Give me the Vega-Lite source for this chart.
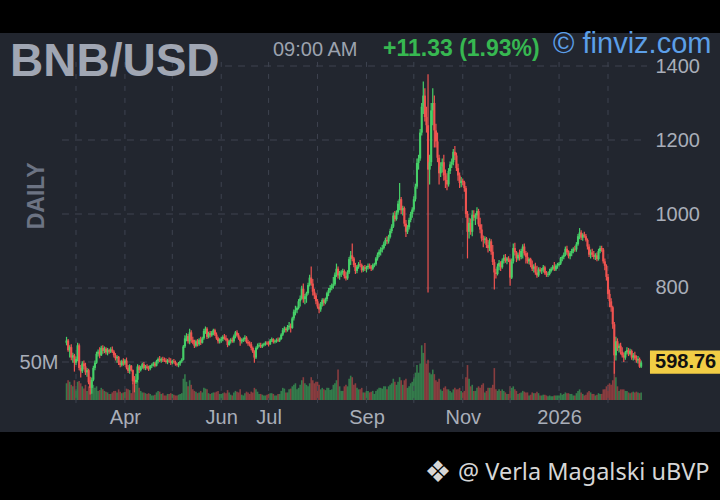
{
  "$schema": "https://vega.github.io/schema/vega-lite/v6.json",
  "autosize": "none",
  "width": 720,
  "height": 399,
  "padding": {"left": 0, "top": 33, "right": 0, "bottom": 68},
  "background": "#000000",
  "config": {"view": {"fill": "#22262f", "stroke": null}},
  "data": {
    "format": {"parse": {"d": "date"}},
    "values": [
      {"d":"2025-02-23","o":652,"h":668,"l":645,"c":658,"v":22},
      {"d":"2025-02-24","o":658,"h":662,"l":628,"c":632,"v":26},
      {"d":"2025-02-25","o":632,"h":645,"l":612,"c":640,"v":24},
      {"d":"2025-02-26","o":640,"h":648,"l":605,"c":612,"v":20},
      {"d":"2025-02-27","o":612,"h":625,"l":598,"c":618,"v":18},
      {"d":"2025-02-28","o":618,"h":622,"l":574,"c":598,"v":26},
      {"d":"2025-03-01","o":598,"h":615,"l":592,"c":608,"v":14},
      {"d":"2025-03-02","o":608,"h":652,"l":602,"c":645,"v":24},
      {"d":"2025-03-03","o":645,"h":650,"l":578,"c":584,"v":25},
      {"d":"2025-03-04","o":584,"h":592,"l":558,"c":575,"v":22},
      {"d":"2025-03-05","o":575,"h":602,"l":570,"c":596,"v":18},
      {"d":"2025-03-06","o":596,"h":604,"l":580,"c":588,"v":15},
      {"d":"2025-03-07","o":588,"h":598,"l":565,"c":572,"v":20},
      {"d":"2025-03-08","o":572,"h":584,"l":560,"c":578,"v":12},
      {"d":"2025-03-09","o":578,"h":582,"l":540,"c":545,"v":18},
      {"d":"2025-03-10","o":545,"h":560,"l":512,"c":530,"v":26},
      {"d":"2025-03-11","o":530,"h":558,"l":514,"c":552,"v":24},
      {"d":"2025-03-12","o":552,"h":590,"l":548,"c":584,"v":20},
      {"d":"2025-03-13","o":584,"h":604,"l":578,"c":598,"v":16},
      {"d":"2025-03-14","o":598,"h":628,"l":595,"c":622,"v":18},
      {"d":"2025-03-15","o":622,"h":634,"l":615,"c":628,"v":12},
      {"d":"2025-03-16","o":628,"h":640,"l":610,"c":618,"v":13},
      {"d":"2025-03-17","o":618,"h":644,"l":616,"c":638,"v":16},
      {"d":"2025-03-18","o":638,"h":645,"l":622,"c":630,"v":14},
      {"d":"2025-03-19","o":630,"h":642,"l":624,"c":636,"v":12},
      {"d":"2025-03-20","o":636,"h":640,"l":620,"c":626,"v":11},
      {"d":"2025-03-21","o":626,"h":638,"l":618,"c":632,"v":10},
      {"d":"2025-03-22","o":632,"h":636,"l":622,"c":628,"v":8},
      {"d":"2025-03-23","o":628,"h":640,"l":624,"c":634,"v":8},
      {"d":"2025-03-24","o":634,"h":642,"l":624,"c":628,"v":10},
      {"d":"2025-03-25","o":628,"h":632,"l":612,"c":618,"v":12},
      {"d":"2025-03-26","o":618,"h":624,"l":604,"c":610,"v":12},
      {"d":"2025-03-27","o":610,"h":618,"l":598,"c":614,"v":10},
      {"d":"2025-03-28","o":614,"h":616,"l":592,"c":598,"v":14},
      {"d":"2025-03-29","o":598,"h":604,"l":586,"c":592,"v":11},
      {"d":"2025-03-30","o":592,"h":606,"l":588,"c":602,"v":9},
      {"d":"2025-03-31","o":602,"h":610,"l":590,"c":596,"v":10},
      {"d":"2025-04-01","o":596,"h":608,"l":592,"c":604,"v":11},
      {"d":"2025-04-02","o":604,"h":612,"l":580,"c":585,"v":15},
      {"d":"2025-04-03","o":585,"h":592,"l":570,"c":576,"v":14},
      {"d":"2025-04-04","o":576,"h":594,"l":568,"c":590,"v":13},
      {"d":"2025-04-05","o":590,"h":592,"l":574,"c":578,"v":9},
      {"d":"2025-04-06","o":578,"h":580,"l":540,"c":548,"v":22},
      {"d":"2025-04-07","o":548,"h":562,"l":518,"c":545,"v":30},
      {"d":"2025-04-08","o":545,"h":568,"l":540,"c":552,"v":20},
      {"d":"2025-04-09","o":552,"h":594,"l":545,"c":588,"v":24},
      {"d":"2025-04-10","o":588,"h":592,"l":570,"c":578,"v":16},
      {"d":"2025-04-11","o":578,"h":590,"l":574,"c":586,"v":12},
      {"d":"2025-04-12","o":586,"h":598,"l":582,"c":594,"v":10},
      {"d":"2025-04-13","o":594,"h":600,"l":580,"c":584,"v":10},
      {"d":"2025-04-14","o":584,"h":592,"l":578,"c":588,"v":9},
      {"d":"2025-04-15","o":588,"h":594,"l":580,"c":584,"v":8},
      {"d":"2025-04-16","o":584,"h":590,"l":576,"c":582,"v":9},
      {"d":"2025-04-17","o":582,"h":592,"l":578,"c":590,"v":8},
      {"d":"2025-04-18","o":590,"h":596,"l":584,"c":592,"v":6},
      {"d":"2025-04-19","o":592,"h":600,"l":588,"c":596,"v":6},
      {"d":"2025-04-20","o":596,"h":600,"l":586,"c":590,"v":7},
      {"d":"2025-04-21","o":590,"h":606,"l":588,"c":602,"v":10},
      {"d":"2025-04-22","o":602,"h":612,"l":596,"c":608,"v":12},
      {"d":"2025-04-23","o":608,"h":616,"l":600,"c":604,"v":11},
      {"d":"2025-04-24","o":604,"h":612,"l":598,"c":608,"v":8},
      {"d":"2025-04-25","o":608,"h":614,"l":600,"c":606,"v":9},
      {"d":"2025-04-26","o":606,"h":612,"l":600,"c":604,"v":6},
      {"d":"2025-04-27","o":604,"h":610,"l":596,"c":600,"v":6},
      {"d":"2025-04-28","o":600,"h":608,"l":594,"c":604,"v":8},
      {"d":"2025-04-29","o":604,"h":612,"l":598,"c":602,"v":8},
      {"d":"2025-04-30","o":602,"h":610,"l":592,"c":598,"v":9},
      {"d":"2025-05-01","o":598,"h":606,"l":594,"c":602,"v":8},
      {"d":"2025-05-02","o":602,"h":608,"l":596,"c":600,"v":7},
      {"d":"2025-05-03","o":600,"h":604,"l":590,"c":594,"v":6},
      {"d":"2025-05-04","o":594,"h":598,"l":588,"c":592,"v":6},
      {"d":"2025-05-05","o":592,"h":600,"l":586,"c":596,"v":7},
      {"d":"2025-05-06","o":596,"h":604,"l":590,"c":602,"v":8},
      {"d":"2025-05-07","o":602,"h":610,"l":598,"c":606,"v":9},
      {"d":"2025-05-08","o":606,"h":646,"l":604,"c":642,"v":28},
      {"d":"2025-05-09","o":642,"h":672,"l":638,"c":664,"v":34},
      {"d":"2025-05-10","o":664,"h":678,"l":656,"c":670,"v":24},
      {"d":"2025-05-11","o":670,"h":676,"l":650,"c":656,"v":18},
      {"d":"2025-05-12","o":656,"h":690,"l":648,"c":680,"v":26},
      {"d":"2025-05-13","o":680,"h":686,"l":652,"c":660,"v":20},
      {"d":"2025-05-14","o":660,"h":668,"l":648,"c":652,"v":14},
      {"d":"2025-05-15","o":652,"h":660,"l":638,"c":644,"v":12},
      {"d":"2025-05-16","o":644,"h":660,"l":640,"c":656,"v":11},
      {"d":"2025-05-17","o":656,"h":662,"l":642,"c":648,"v":9},
      {"d":"2025-05-18","o":648,"h":664,"l":644,"c":660,"v":10},
      {"d":"2025-05-19","o":660,"h":668,"l":646,"c":652,"v":12},
      {"d":"2025-05-20","o":652,"h":668,"l":650,"c":664,"v":10},
      {"d":"2025-05-21","o":664,"h":690,"l":660,"c":684,"v":16},
      {"d":"2025-05-22","o":684,"h":696,"l":676,"c":690,"v":15},
      {"d":"2025-05-23","o":690,"h":694,"l":662,"c":668,"v":14},
      {"d":"2025-05-24","o":668,"h":682,"l":664,"c":678,"v":9},
      {"d":"2025-05-25","o":678,"h":684,"l":666,"c":672,"v":8},
      {"d":"2025-05-26","o":672,"h":684,"l":668,"c":680,"v":9},
      {"d":"2025-05-27","o":680,"h":690,"l":672,"c":686,"v":10},
      {"d":"2025-05-28","o":686,"h":690,"l":670,"c":674,"v":10},
      {"d":"2025-05-29","o":674,"h":680,"l":660,"c":664,"v":11},
      {"d":"2025-05-30","o":664,"h":668,"l":650,"c":656,"v":12},
      {"d":"2025-05-31","o":656,"h":664,"l":650,"c":660,"v":8},
      {"d":"2025-06-01","o":660,"h":668,"l":652,"c":662,"v":8},
      {"d":"2025-06-02","o":662,"h":672,"l":656,"c":668,"v":9},
      {"d":"2025-06-03","o":668,"h":676,"l":660,"c":664,"v":10},
      {"d":"2025-06-04","o":664,"h":672,"l":656,"c":660,"v":9},
      {"d":"2025-06-05","o":660,"h":664,"l":640,"c":646,"v":13},
      {"d":"2025-06-06","o":646,"h":660,"l":644,"c":656,"v":10},
      {"d":"2025-06-07","o":656,"h":664,"l":650,"c":660,"v":7},
      {"d":"2025-06-08","o":660,"h":666,"l":652,"c":656,"v":6},
      {"d":"2025-06-09","o":656,"h":674,"l":652,"c":670,"v":10},
      {"d":"2025-06-10","o":670,"h":684,"l":664,"c":680,"v":12},
      {"d":"2025-06-11","o":680,"h":686,"l":668,"c":672,"v":11},
      {"d":"2025-06-12","o":672,"h":678,"l":660,"c":664,"v":10},
      {"d":"2025-06-13","o":664,"h":668,"l":644,"c":656,"v":14},
      {"d":"2025-06-14","o":656,"h":664,"l":650,"c":660,"v":7},
      {"d":"2025-06-15","o":660,"h":666,"l":654,"c":662,"v":6},
      {"d":"2025-06-16","o":662,"h":672,"l":656,"c":666,"v":9},
      {"d":"2025-06-17","o":666,"h":670,"l":650,"c":654,"v":11},
      {"d":"2025-06-18","o":654,"h":660,"l":644,"c":650,"v":10},
      {"d":"2025-06-19","o":650,"h":656,"l":642,"c":648,"v":8},
      {"d":"2025-06-20","o":648,"h":654,"l":632,"c":638,"v":11},
      {"d":"2025-06-21","o":638,"h":642,"l":624,"c":628,"v":10},
      {"d":"2025-06-22","o":628,"h":632,"l":598,"c":612,"v":16},
      {"d":"2025-06-23","o":612,"h":642,"l":608,"c":638,"v":14},
      {"d":"2025-06-24","o":638,"h":650,"l":634,"c":644,"v":11},
      {"d":"2025-06-25","o":644,"h":652,"l":640,"c":646,"v":8},
      {"d":"2025-06-26","o":646,"h":652,"l":638,"c":642,"v":8},
      {"d":"2025-06-27","o":642,"h":650,"l":638,"c":646,"v":7},
      {"d":"2025-06-28","o":646,"h":652,"l":642,"c":648,"v":6},
      {"d":"2025-06-29","o":648,"h":656,"l":644,"c":652,"v":6},
      {"d":"2025-06-30","o":652,"h":656,"l":646,"c":650,"v":7},
      {"d":"2025-07-01","o":650,"h":656,"l":642,"c":648,"v":8},
      {"d":"2025-07-02","o":648,"h":662,"l":646,"c":658,"v":9},
      {"d":"2025-07-03","o":658,"h":666,"l":654,"c":662,"v":9},
      {"d":"2025-07-04","o":662,"h":664,"l":650,"c":654,"v":8},
      {"d":"2025-07-05","o":654,"h":660,"l":650,"c":656,"v":6},
      {"d":"2025-07-06","o":656,"h":664,"l":652,"c":660,"v":6},
      {"d":"2025-07-07","o":660,"h":666,"l":654,"c":658,"v":8},
      {"d":"2025-07-08","o":658,"h":666,"l":654,"c":662,"v":8},
      {"d":"2025-07-09","o":662,"h":678,"l":660,"c":674,"v":12},
      {"d":"2025-07-10","o":674,"h":692,"l":670,"c":686,"v":16},
      {"d":"2025-07-11","o":686,"h":696,"l":680,"c":690,"v":15},
      {"d":"2025-07-12","o":690,"h":694,"l":680,"c":686,"v":10},
      {"d":"2025-07-13","o":686,"h":700,"l":682,"c":694,"v":10},
      {"d":"2025-07-14","o":694,"h":708,"l":688,"c":698,"v":14},
      {"d":"2025-07-15","o":698,"h":704,"l":680,"c":692,"v":15},
      {"d":"2025-07-16","o":692,"h":722,"l":690,"c":718,"v":18},
      {"d":"2025-07-17","o":718,"h":742,"l":712,"c":736,"v":20},
      {"d":"2025-07-18","o":736,"h":752,"l":726,"c":740,"v":22},
      {"d":"2025-07-19","o":740,"h":750,"l":732,"c":746,"v":14},
      {"d":"2025-07-20","o":746,"h":770,"l":742,"c":764,"v":16},
      {"d":"2025-07-21","o":764,"h":780,"l":750,"c":772,"v":20},
      {"d":"2025-07-22","o":772,"h":806,"l":768,"c":798,"v":26},
      {"d":"2025-07-23","o":798,"h":812,"l":760,"c":770,"v":30},
      {"d":"2025-07-24","o":770,"h":784,"l":756,"c":778,"v":22},
      {"d":"2025-07-25","o":778,"h":790,"l":760,"c":786,"v":20},
      {"d":"2025-07-26","o":786,"h":814,"l":782,"c":808,"v":18},
      {"d":"2025-07-27","o":808,"h":836,"l":804,"c":828,"v":22},
      {"d":"2025-07-28","o":828,"h":858,"l":806,"c":812,"v":30},
      {"d":"2025-07-29","o":812,"h":824,"l":780,"c":790,"v":26},
      {"d":"2025-07-30","o":790,"h":798,"l":770,"c":780,"v":22},
      {"d":"2025-07-31","o":780,"h":786,"l":756,"c":764,"v":24},
      {"d":"2025-08-01","o":764,"h":770,"l":744,"c":750,"v":24},
      {"d":"2025-08-02","o":750,"h":758,"l":732,"c":742,"v":20},
      {"d":"2025-08-03","o":742,"h":762,"l":736,"c":756,"v":14},
      {"d":"2025-08-04","o":756,"h":772,"l":750,"c":768,"v":16},
      {"d":"2025-08-05","o":768,"h":772,"l":752,"c":760,"v":14},
      {"d":"2025-08-06","o":760,"h":774,"l":756,"c":770,"v":13},
      {"d":"2025-08-07","o":770,"h":790,"l":764,"c":786,"v":16},
      {"d":"2025-08-08","o":786,"h":800,"l":778,"c":794,"v":16},
      {"d":"2025-08-09","o":794,"h":808,"l":788,"c":800,"v":13},
      {"d":"2025-08-10","o":800,"h":812,"l":794,"c":806,"v":14},
      {"d":"2025-08-11","o":806,"h":830,"l":798,"c":810,"v":20},
      {"d":"2025-08-12","o":810,"h":842,"l":806,"c":836,"v":22},
      {"d":"2025-08-13","o":836,"h":866,"l":830,"c":852,"v":26},
      {"d":"2025-08-14","o":852,"h":858,"l":826,"c":834,"v":40},
      {"d":"2025-08-15","o":834,"h":846,"l":822,"c":840,"v":18},
      {"d":"2025-08-16","o":840,"h":848,"l":830,"c":842,"v":12},
      {"d":"2025-08-17","o":842,"h":852,"l":836,"c":846,"v":12},
      {"d":"2025-08-18","o":846,"h":850,"l":826,"c":832,"v":18},
      {"d":"2025-08-19","o":832,"h":844,"l":820,"c":826,"v":20},
      {"d":"2025-08-20","o":826,"h":848,"l":822,"c":842,"v":18},
      {"d":"2025-08-21","o":842,"h":884,"l":838,"c":878,"v":28},
      {"d":"2025-08-22","o":878,"h":900,"l":862,"c":888,"v":32},
      {"d":"2025-08-23","o":888,"h":920,"l":872,"c":880,"v":30},
      {"d":"2025-08-24","o":880,"h":884,"l":856,"c":862,"v":20},
      {"d":"2025-08-25","o":862,"h":868,"l":838,"c":846,"v":22},
      {"d":"2025-08-26","o":846,"h":862,"l":840,"c":858,"v":16},
      {"d":"2025-08-27","o":858,"h":870,"l":852,"c":864,"v":14},
      {"d":"2025-08-28","o":864,"h":876,"l":856,"c":862,"v":14},
      {"d":"2025-08-29","o":862,"h":866,"l":842,"c":848,"v":16},
      {"d":"2025-08-30","o":848,"h":860,"l":844,"c":856,"v":10},
      {"d":"2025-08-31","o":856,"h":862,"l":846,"c":852,"v":10},
      {"d":"2025-09-01","o":852,"h":860,"l":842,"c":856,"v":12},
      {"d":"2025-09-02","o":856,"h":866,"l":850,"c":860,"v":12},
      {"d":"2025-09-03","o":860,"h":866,"l":852,"c":858,"v":10},
      {"d":"2025-09-04","o":858,"h":862,"l":846,"c":852,"v":11},
      {"d":"2025-09-05","o":852,"h":866,"l":848,"c":862,"v":12},
      {"d":"2025-09-06","o":862,"h":868,"l":856,"c":864,"v":8},
      {"d":"2025-09-07","o":864,"h":884,"l":860,"c":880,"v":12},
      {"d":"2025-09-08","o":880,"h":896,"l":874,"c":890,"v":14},
      {"d":"2025-09-09","o":890,"h":904,"l":884,"c":898,"v":16},
      {"d":"2025-09-10","o":898,"h":910,"l":888,"c":904,"v":16},
      {"d":"2025-09-11","o":904,"h":916,"l":896,"c":908,"v":15},
      {"d":"2025-09-12","o":908,"h":926,"l":904,"c":920,"v":18},
      {"d":"2025-09-13","o":920,"h":936,"l":914,"c":930,"v":18},
      {"d":"2025-09-14","o":930,"h":940,"l":918,"c":926,"v":14},
      {"d":"2025-09-15","o":926,"h":944,"l":920,"c":938,"v":18},
      {"d":"2025-09-16","o":938,"h":960,"l":934,"c":954,"v":20},
      {"d":"2025-09-17","o":954,"h":972,"l":948,"c":966,"v":22},
      {"d":"2025-09-18","o":966,"h":1004,"l":962,"c":996,"v":28},
      {"d":"2025-09-19","o":996,"h":1008,"l":980,"c":986,"v":24},
      {"d":"2025-09-20","o":986,"h":1010,"l":982,"c":1004,"v":20},
      {"d":"2025-09-21","o":1004,"h":1036,"l":998,"c":1028,"v":24},
      {"d":"2025-09-22","o":1028,"h":1084,"l":1010,"c":1040,"v":30},
      {"d":"2025-09-23","o":1040,"h":1046,"l":1000,"c":1010,"v":26},
      {"d":"2025-09-24","o":1010,"h":1022,"l":996,"c":1016,"v":20},
      {"d":"2025-09-25","o":1016,"h":1020,"l":966,"c":974,"v":26},
      {"d":"2025-09-26","o":974,"h":984,"l":938,"c":952,"v":28},
      {"d":"2025-09-27","o":952,"h":970,"l":946,"c":964,"v":16},
      {"d":"2025-09-28","o":964,"h":990,"l":958,"c":984,"v":18},
      {"d":"2025-09-29","o":984,"h":1006,"l":978,"c":1000,"v":22},
      {"d":"2025-09-30","o":1000,"h":1018,"l":990,"c":1012,"v":24},
      {"d":"2025-10-01","o":1012,"h":1048,"l":1006,"c":1040,"v":30},
      {"d":"2025-10-02","o":1040,"h":1082,"l":1034,"c":1074,"v":36},
      {"d":"2025-10-03","o":1074,"h":1150,"l":1068,"c":1138,"v":46},
      {"d":"2025-10-04","o":1138,"h":1160,"l":1120,"c":1150,"v":36},
      {"d":"2025-10-05","o":1150,"h":1230,"l":1144,"c":1220,"v":48},
      {"d":"2025-10-06","o":1220,"h":1300,"l":1212,"c":1290,"v":72},
      {"d":"2025-10-07","o":1290,"h":1358,"l":1270,"c":1320,"v":62},
      {"d":"2025-10-08","o":1320,"h":1340,"l":1250,"c":1262,"v":75},
      {"d":"2025-10-09","o":1262,"h":1290,"l":1220,"c":1240,"v":48},
      {"d":"2025-10-10","o":1240,"h":1378,"l":788,"c":1120,"v":53},
      {"d":"2025-10-11","o":1120,"h":1160,"l":1080,"c":1140,"v":36},
      {"d":"2025-10-12","o":1140,"h":1300,"l":1130,"c":1280,"v":34},
      {"d":"2025-10-13","o":1280,"h":1340,"l":1240,"c":1300,"v":40},
      {"d":"2025-10-14","o":1300,"h":1320,"l":1180,"c":1226,"v":34},
      {"d":"2025-10-15","o":1226,"h":1244,"l":1180,"c":1196,"v":26},
      {"d":"2025-10-16","o":1196,"h":1220,"l":1140,"c":1152,"v":24},
      {"d":"2025-10-17","o":1152,"h":1160,"l":1080,"c":1110,"v":28},
      {"d":"2025-10-18","o":1110,"h":1140,"l":1100,"c":1128,"v":14},
      {"d":"2025-10-19","o":1128,"h":1150,"l":1112,"c":1140,"v":12},
      {"d":"2025-10-20","o":1140,"h":1160,"l":1090,"c":1104,"v":16},
      {"d":"2025-10-21","o":1104,"h":1120,"l":1070,"c":1092,"v":18},
      {"d":"2025-10-22","o":1092,"h":1110,"l":1064,"c":1080,"v":14},
      {"d":"2025-10-23","o":1080,"h":1124,"l":1074,"c":1116,"v":14},
      {"d":"2025-10-24","o":1116,"h":1142,"l":1108,"c":1134,"v":12},
      {"d":"2025-10-25","o":1134,"h":1150,"l":1124,"c":1140,"v":10},
      {"d":"2025-10-26","o":1140,"h":1176,"l":1132,"c":1168,"v":14},
      {"d":"2025-10-27","o":1168,"h":1184,"l":1146,"c":1158,"v":16},
      {"d":"2025-10-28","o":1158,"h":1166,"l":1116,"c":1124,"v":14},
      {"d":"2025-10-29","o":1124,"h":1136,"l":1090,"c":1104,"v":14},
      {"d":"2025-10-30","o":1104,"h":1112,"l":1070,"c":1084,"v":16},
      {"d":"2025-10-31","o":1084,"h":1100,"l":1072,"c":1090,"v":12},
      {"d":"2025-11-01","o":1090,"h":1096,"l":1078,"c":1086,"v":10},
      {"d":"2025-11-02","o":1086,"h":1090,"l":1060,"c":1070,"v":12},
      {"d":"2025-11-03","o":1070,"h":1076,"l":990,"c":1000,"v":30},
      {"d":"2025-11-04","o":1000,"h":1008,"l":880,"c":952,"v":46},
      {"d":"2025-11-05","o":952,"h":990,"l":934,"c":976,"v":28},
      {"d":"2025-11-06","o":976,"h":988,"l":944,"c":952,"v":18},
      {"d":"2025-11-07","o":952,"h":1010,"l":940,"c":998,"v":20},
      {"d":"2025-11-08","o":998,"h":1010,"l":982,"c":990,"v":12},
      {"d":"2025-11-09","o":990,"h":1002,"l":970,"c":996,"v":12},
      {"d":"2025-11-10","o":996,"h":1018,"l":986,"c":1008,"v":16},
      {"d":"2025-11-11","o":1008,"h":1014,"l":966,"c":972,"v":18},
      {"d":"2025-11-12","o":972,"h":990,"l":948,"c":958,"v":16},
      {"d":"2025-11-13","o":958,"h":972,"l":926,"c":934,"v":20},
      {"d":"2025-11-14","o":934,"h":942,"l":910,"c":930,"v":22},
      {"d":"2025-11-15","o":930,"h":940,"l":920,"c":934,"v":10},
      {"d":"2025-11-16","o":934,"h":938,"l":908,"c":916,"v":12},
      {"d":"2025-11-17","o":916,"h":930,"l":896,"c":908,"v":16},
      {"d":"2025-11-18","o":908,"h":934,"l":900,"c":926,"v":16},
      {"d":"2025-11-19","o":926,"h":932,"l":890,"c":898,"v":16},
      {"d":"2025-11-20","o":898,"h":916,"l":862,"c":870,"v":20},
      {"d":"2025-11-21","o":870,"h":878,"l":796,"c":842,"v":42},
      {"d":"2025-11-22","o":842,"h":852,"l":826,"c":838,"v":14},
      {"d":"2025-11-23","o":838,"h":866,"l":834,"c":858,"v":12},
      {"d":"2025-11-24","o":858,"h":876,"l":848,"c":868,"v":14},
      {"d":"2025-11-25","o":868,"h":872,"l":846,"c":856,"v":12},
      {"d":"2025-11-26","o":856,"h":880,"l":852,"c":874,"v":14},
      {"d":"2025-11-27","o":874,"h":890,"l":866,"c":882,"v":12},
      {"d":"2025-11-28","o":882,"h":892,"l":868,"c":874,"v":10},
      {"d":"2025-11-29","o":874,"h":884,"l":864,"c":880,"v":8},
      {"d":"2025-11-30","o":880,"h":886,"l":870,"c":876,"v":8},
      {"d":"2025-12-01","o":876,"h":880,"l":806,"c":828,"v":18},
      {"d":"2025-12-02","o":828,"h":880,"l":824,"c":872,"v":16},
      {"d":"2025-12-03","o":872,"h":920,"l":866,"c":908,"v":18},
      {"d":"2025-12-04","o":908,"h":922,"l":888,"c":896,"v":14},
      {"d":"2025-12-05","o":896,"h":900,"l":870,"c":880,"v":12},
      {"d":"2025-12-06","o":880,"h":896,"l":874,"c":890,"v":8},
      {"d":"2025-12-07","o":890,"h":904,"l":874,"c":884,"v":9},
      {"d":"2025-12-08","o":884,"h":906,"l":878,"c":900,"v":10},
      {"d":"2025-12-09","o":900,"h":918,"l":880,"c":912,"v":12},
      {"d":"2025-12-10","o":912,"h":920,"l":888,"c":894,"v":11},
      {"d":"2025-12-11","o":894,"h":900,"l":866,"c":884,"v":10},
      {"d":"2025-12-12","o":884,"h":896,"l":866,"c":872,"v":10},
      {"d":"2025-12-13","o":872,"h":882,"l":864,"c":878,"v":6},
      {"d":"2025-12-14","o":878,"h":882,"l":856,"c":862,"v":7},
      {"d":"2025-12-15","o":862,"h":874,"l":846,"c":852,"v":10},
      {"d":"2025-12-16","o":852,"h":864,"l":842,"c":858,"v":9},
      {"d":"2025-12-17","o":858,"h":868,"l":836,"c":842,"v":9},
      {"d":"2025-12-18","o":842,"h":860,"l":828,"c":834,"v":11},
      {"d":"2025-12-19","o":834,"h":856,"l":830,"c":850,"v":9},
      {"d":"2025-12-20","o":850,"h":856,"l":842,"c":846,"v":6},
      {"d":"2025-12-21","o":846,"h":854,"l":838,"c":848,"v":6},
      {"d":"2025-12-22","o":848,"h":862,"l":842,"c":856,"v":7},
      {"d":"2025-12-23","o":856,"h":860,"l":836,"c":840,"v":7},
      {"d":"2025-12-24","o":840,"h":846,"l":830,"c":836,"v":6},
      {"d":"2025-12-25","o":836,"h":844,"l":830,"c":838,"v":5},
      {"d":"2025-12-26","o":838,"h":852,"l":834,"c":846,"v":6},
      {"d":"2025-12-27","o":846,"h":856,"l":842,"c":852,"v":5},
      {"d":"2025-12-28","o":852,"h":862,"l":848,"c":858,"v":5},
      {"d":"2025-12-29","o":858,"h":870,"l":846,"c":850,"v":6},
      {"d":"2025-12-30","o":850,"h":864,"l":846,"c":860,"v":6},
      {"d":"2025-12-31","o":860,"h":868,"l":852,"c":862,"v":6},
      {"d":"2026-01-01","o":862,"h":870,"l":858,"c":866,"v":6},
      {"d":"2026-01-02","o":866,"h":884,"l":862,"c":880,"v":9},
      {"d":"2026-01-03","o":880,"h":888,"l":872,"c":884,"v":7},
      {"d":"2026-01-04","o":884,"h":896,"l":878,"c":890,"v":8},
      {"d":"2026-01-05","o":890,"h":912,"l":886,"c":906,"v":10},
      {"d":"2026-01-06","o":906,"h":914,"l":890,"c":896,"v":9},
      {"d":"2026-01-07","o":896,"h":902,"l":880,"c":886,"v":9},
      {"d":"2026-01-08","o":886,"h":900,"l":878,"c":894,"v":8},
      {"d":"2026-01-09","o":894,"h":906,"l":886,"c":900,"v":8},
      {"d":"2026-01-10","o":900,"h":910,"l":894,"c":906,"v":6},
      {"d":"2026-01-11","o":906,"h":914,"l":898,"c":904,"v":6},
      {"d":"2026-01-12","o":904,"h":924,"l":898,"c":918,"v":9},
      {"d":"2026-01-13","o":918,"h":946,"l":914,"c":940,"v":12},
      {"d":"2026-01-14","o":940,"h":962,"l":932,"c":950,"v":14},
      {"d":"2026-01-15","o":950,"h":956,"l":930,"c":936,"v":10},
      {"d":"2026-01-16","o":936,"h":948,"l":928,"c":944,"v":8},
      {"d":"2026-01-17","o":944,"h":952,"l":936,"c":940,"v":6},
      {"d":"2026-01-18","o":940,"h":946,"l":926,"c":930,"v":7},
      {"d":"2026-01-19","o":930,"h":934,"l":904,"c":912,"v":10},
      {"d":"2026-01-20","o":912,"h":918,"l":884,"c":890,"v":12},
      {"d":"2026-01-21","o":890,"h":904,"l":880,"c":896,"v":10},
      {"d":"2026-01-22","o":896,"h":906,"l":884,"c":890,"v":8},
      {"d":"2026-01-23","o":890,"h":900,"l":878,"c":884,"v":8},
      {"d":"2026-01-24","o":884,"h":894,"l":876,"c":888,"v":6},
      {"d":"2026-01-25","o":888,"h":896,"l":872,"c":878,"v":7},
      {"d":"2026-01-26","o":878,"h":906,"l":874,"c":900,"v":9},
      {"d":"2026-01-27","o":900,"h":914,"l":894,"c":908,"v":8},
      {"d":"2026-01-28","o":908,"h":914,"l":898,"c":904,"v":8},
      {"d":"2026-01-29","o":904,"h":908,"l":866,"c":872,"v":14},
      {"d":"2026-01-30","o":872,"h":880,"l":848,"c":860,"v":14},
      {"d":"2026-01-31","o":860,"h":864,"l":820,"c":830,"v":18},
      {"d":"2026-02-01","o":830,"h":838,"l":770,"c":784,"v":20},
      {"d":"2026-02-02","o":784,"h":796,"l":748,"c":764,"v":22},
      {"d":"2026-02-03","o":764,"h":772,"l":736,"c":748,"v":20},
      {"d":"2026-02-04","o":748,"h":752,"l":690,"c":702,"v":26},
      {"d":"2026-02-05","o":702,"h":708,"l":568,"c":618,"v":50},
      {"d":"2026-02-06","o":618,"h":668,"l":604,"c":656,"v":30},
      {"d":"2026-02-07","o":656,"h":664,"l":630,"c":638,"v":18},
      {"d":"2026-02-08","o":638,"h":650,"l":626,"c":644,"v":12},
      {"d":"2026-02-09","o":644,"h":652,"l":620,"c":628,"v":14},
      {"d":"2026-02-10","o":628,"h":640,"l":612,"c":618,"v":14},
      {"d":"2026-02-11","o":618,"h":626,"l":600,"c":612,"v":14},
      {"d":"2026-02-12","o":612,"h":630,"l":606,"c":626,"v":12},
      {"d":"2026-02-13","o":626,"h":640,"l":620,"c":632,"v":12},
      {"d":"2026-02-14","o":632,"h":638,"l":616,"c":622,"v":10},
      {"d":"2026-02-15","o":622,"h":636,"l":618,"c":630,"v":9},
      {"d":"2026-02-16","o":630,"h":634,"l":606,"c":612,"v":10},
      {"d":"2026-02-17","o":612,"h":624,"l":604,"c":618,"v":11},
      {"d":"2026-02-18","o":618,"h":628,"l":606,"c":610,"v":10},
      {"d":"2026-02-19","o":610,"h":618,"l":598,"c":604,"v":11},
      {"d":"2026-02-20","o":604,"h":616,"l":596,"c":608,"v":10},
      {"d":"2026-02-21","o":608,"h":612,"l":584,"c":587.43,"v":9},
      {"d":"2026-02-22","o":587.43,"h":604,"l":584,"c":598.76,"v":10}
    ]
  },
  "resolve": {"scale": {"y": "independent"}, "axis": {"y": "independent"}},
  "layer": [
    {
      "layer": [
        {
          "data": {"values": [{"v": 50}]},
          "mark": {"type": "rule", "color": "#3e4350", "strokeDash": [7, 6], "strokeWidth": 1},
          "encoding": {
            "x": {"datum": {"year": 2025, "month": 2, "date": 20, "hours": 3, "utc": true}, "type": "temporal",
              "scale": {"type": "utc", "nice": false, "domain": [{"year": 2025, "month": 1, "date": 11, "hours": 20, "minutes": 40, "utc": true}, {"year": 2026, "month": 4, "date": 12, "hours": 22, "minutes": 48, "utc": true}]}},
            "x2": {"datum": {"year": 2026, "month": 2, "date": 25, "hours": 17, "utc": true}},
            "y": {"field": "v", "type": "quantitative",
              "scale": {"domain": [-42.1, 482.9], "zero": false, "nice": false},
              "axis": {"orient": "left", "values": [50], "labelExpr": "'50M'", "offset": -58, "labelPadding": 0, "ticks": false, "domain": false, "grid": false, "title": null,
                "labelFont": "Liberation Sans", "labelFontSize": 20, "labelColor": "#a9aeb9", "labelBaseline": "middle", "labelAlign": "right"}}
          }
        },
        {
          "mark": {"type": "rule", "strokeWidth": 1.6, "opacity": 0.5},
          "encoding": {
            "x": {"field": "d", "type": "temporal"},
            "y": {"field": "v", "type": "quantitative", "scale": {"domain": [-42.1, 482.9], "zero": false, "nice": false}},
            "y2": {"datum": 0},
            "color": {"condition": {"test": "datum.c >= datum.o", "value": "#46cf68"}, "value": "#ef5350"}
          }
        }
      ]
    },
    {
      "layer": [
        {
          "data": {"values": [{"p": 800}, {"p": 1000}, {"p": 1200}]},
          "mark": {"type": "rule", "color": "#3e4350", "strokeDash": [7, 6], "strokeWidth": 1},
          "encoding": {
            "x": {"datum": {"year": 2025, "month": 2, "date": 20, "hours": 3, "utc": true}, "type": "temporal"},
            "x2": {"datum": {"year": 2026, "month": 2, "date": 25, "hours": 17, "utc": true}},
            "y": {"field": "p", "type": "quantitative",
              "scale": {"domain": [410.8, 1489.2], "zero": false, "nice": false},
              "axis": {"orient": "right", "values": [800, 1000, 1200, 1400], "format": "d", "offset": -65, "labelPadding": 0, "ticks": false, "domain": false, "grid": false, "title": null,
                "labelFont": "Liberation Sans", "labelFontSize": 20, "labelColor": "#a9aeb9", "labelBaseline": "middle", "labelAlign": "left"}}
          }
        },
        {
          "data": {"values": [{"p": 1400}]},
          "mark": {"type": "rule", "color": "#3e4350", "strokeDash": [7, 6], "strokeWidth": 1},
          "encoding": {
            "x": {"datum": {"year": 2025, "month": 6, "date": 3, "hours": 10, "utc": true}, "type": "temporal"},
            "x2": {"datum": {"year": 2026, "month": 2, "date": 25, "hours": 17, "utc": true}},
            "y": {"field": "p", "type": "quantitative", "scale": {"domain": [410.8, 1489.2], "zero": false, "nice": false}}
          }
        },
        {
          "data": {"values": [
            {"m": "2025-03-01"}, {"m": "2025-04-01"}, {"m": "2025-05-01"}, {"m": "2025-06-01"},
            {"m": "2025-07-01"}, {"m": "2025-08-01"}, {"m": "2025-09-01"}, {"m": "2025-10-01"},
            {"m": "2025-11-01"}, {"m": "2025-12-01"}, {"m": "2026-01-01"}, {"m": "2026-02-01"}
          ]},
          "mark": {"type": "rule", "color": "#3e4350", "strokeDash": [5, 7], "strokeWidth": 1},
          "encoding": {
            "x": {"field": "m", "type": "temporal",
              "axis": {"orient": "bottom", "offset": -15, "domain": false, "ticks": false, "grid": false, "title": null, "labelPadding": 0,
                "values": [{"year": 2025, "month": 3, "date": 1, "utc": true}, {"year": 2025, "month": 4, "date": 1, "utc": true}, {"year": 2025, "month": 5, "date": 1, "utc": true}, {"year": 2025, "month": 6, "date": 1, "utc": true}, {"year": 2025, "month": 7, "date": 1, "utc": true}, {"year": 2025, "month": 8, "date": 1, "utc": true}, {"year": 2025, "month": 9, "date": 1, "utc": true}, {"year": 2025, "month": 10, "date": 1, "utc": true}, {"year": 2025, "month": 11, "date": 1, "utc": true}, {"year": 2025, "month": 12, "date": 1, "utc": true}, {"year": 2026, "month": 1, "date": 1, "utc": true}, {"year": 2026, "month": 2, "date": 1, "utc": true}],
                "labelExpr": "utcmonth(datum.value) == 0 ? utcFormat(datum.value, '%Y') : (indexof([3, 5, 6, 8, 10], utcmonth(datum.value)) >= 0 ? utcFormat(datum.value, '%b') : '')",
                "labelOverlap": false, "labelFlush": false, "labelBaseline": "middle", "labelAlign": "center",
                "labelFont": "Liberation Sans", "labelFontSize": 20, "labelColor": "#a9aeb9"}},
            "y": {"datum": 1411, "type": "quantitative", "scale": {"domain": [410.8, 1489.2], "zero": false, "nice": false}},
            "y2": {"datum": 484}
          }
        },
        {
          "mark": {"type": "rule", "strokeWidth": 1.2},
          "encoding": {
            "x": {"field": "d", "type": "temporal"},
            "y": {"field": "l", "type": "quantitative", "scale": {"domain": [410.8, 1489.2], "zero": false, "nice": false}},
            "y2": {"field": "h"},
            "color": {"condition": {"test": "datum.c >= datum.o", "value": "#46cf68"}, "value": "#ef5350"}
          }
        },
        {
          "mark": {"type": "rule", "strokeWidth": 2.1},
          "encoding": {
            "x": {"field": "d", "type": "temporal"},
            "y": {"field": "o", "type": "quantitative", "scale": {"domain": [410.8, 1489.2], "zero": false, "nice": false}},
            "y2": {"field": "c"},
            "color": {"condition": {"test": "datum.c >= datum.o", "value": "#46cf68"}, "value": "#ef5350"}
          }
        },
        {
          "transform": [{"filter": "time(datum.d) == utc(2026, 1, 22)"}],
          "mark": {"type": "rect", "color": "#f2cd45"},
          "encoding": {
            "x": {"datum": {"year": 2026, "month": 2, "date": 27, "hours": 14, "utc": true}, "type": "temporal"},
            "x2": {"datum": {"year": 2026, "month": 4, "date": 13, "utc": true}},
            "y": {"datum": 631, "type": "quantitative", "scale": {"domain": [410.8, 1489.2], "zero": false, "nice": false}},
            "y2": {"datum": 568}
          }
        },
        {
          "transform": [{"filter": "time(datum.d) == utc(2026, 1, 22)"}],
          "mark": {"type": "text", "align": "left", "baseline": "middle", "font": "Liberation Sans", "fontSize": 20, "fontWeight": "bold", "color": "#111111"},
          "encoding": {
            "x": {"datum": {"year": 2026, "month": 3, "date": 2, "hours": 19, "utc": true}, "type": "temporal"},
            "y": {"field": "c", "type": "quantitative", "scale": {"domain": [410.8, 1489.2], "zero": false, "nice": false}},
            "text": {"field": "c", "format": ".2f"}
          }
        },
        {
          "data": {"values": [{}]},
          "mark": {"type": "text", "text": "BNB/USD", "align": "left", "baseline": "alphabetic", "font": "Liberation Sans", "fontSize": 46, "fontWeight": "bold", "color": "#a0a6b3"},
          "encoding": {
            "x": {"datum": {"year": 2025, "month": 1, "date": 18, "hours": 5, "utc": true}, "type": "temporal"},
            "y": {"datum": 1373, "type": "quantitative", "scale": {"domain": [410.8, 1489.2], "zero": false, "nice": false}}
          }
        },
        {
          "data": {"values": [{}]},
          "mark": {"type": "text", "text": "09:00 AM", "align": "left", "baseline": "alphabetic", "font": "Liberation Sans", "fontSize": 20, "color": "#9ca2ae"},
          "encoding": {
            "x": {"datum": {"year": 2025, "month": 7, "date": 3, "hours": 19, "utc": true}, "type": "temporal"},
            "y": {"datum": 1427, "type": "quantitative", "scale": {"domain": [410.8, 1489.2], "zero": false, "nice": false}}
          }
        },
        {
          "data": {"values": [{}]},
          "mark": {"type": "text", "text": "+11.33 (1.93%)", "align": "left", "baseline": "alphabetic", "font": "Liberation Sans", "fontSize": 23, "fontWeight": "bold", "color": "#37b851"},
          "encoding": {
            "x": {"datum": {"year": 2025, "month": 9, "date": 11, "hours": 12, "utc": true}, "type": "temporal"},
            "y": {"datum": 1427, "type": "quantitative", "scale": {"domain": [410.8, 1489.2], "zero": false, "nice": false}}
          }
        },
        {
          "data": {"values": [{}]},
          "mark": {"type": "text", "text": "© finviz.com", "align": "left", "baseline": "alphabetic", "font": "Liberation Sans", "fontSize": 29, "color": "#5c9fe8"},
          "encoding": {
            "x": {"datum": {"year": 2025, "month": 12, "date": 28, "hours": 5, "utc": true}, "type": "temporal"},
            "y": {"datum": 1434, "type": "quantitative", "scale": {"domain": [410.8, 1489.2], "zero": false, "nice": false}}
          }
        },
        {
          "data": {"values": [{}]},
          "mark": {"type": "text", "text": "DAILY", "angle": 270, "align": "center", "baseline": "middle", "font": "Liberation Sans", "fontSize": 23, "fontWeight": "bold", "color": "#6c7383"},
          "encoding": {
            "x": {"datum": {"year": 2025, "month": 2, "date": 4, "hours": 7, "utc": true}, "type": "temporal"},
            "y": {"datum": 1049, "type": "quantitative", "scale": {"domain": [410.8, 1489.2], "zero": false, "nice": false}}
          }
        },
        {
          "data": {"values": [{}]},
          "mark": {"type": "text", "text": "❖", "align": "center", "baseline": "middle", "font": "DejaVu Sans", "fontSize": 30, "color": "#d6d6d6"},
          "encoding": {
            "x": {"datum": {"year": 2025, "month": 10, "date": 16, "hours": 7, "utc": true}, "type": "temporal"},
            "y": {"datum": 300, "type": "quantitative", "scale": {"domain": [410.8, 1489.2], "zero": false, "nice": false}}
          }
        },
        {
          "data": {"values": [{}]},
          "mark": {"type": "text", "text": "@ Verla Magalski uBVP", "align": "left", "baseline": "middle", "font": "Noto Sans", "fontSize": 23.5, "color": "#d6d6d6"},
          "encoding": {
            "x": {"datum": {"year": 2025, "month": 10, "date": 29, "utc": true}, "type": "temporal"},
            "y": {"datum": 300, "type": "quantitative", "scale": {"domain": [410.8, 1489.2], "zero": false, "nice": false}}
          }
        }
      ]
    }
  ]
}
